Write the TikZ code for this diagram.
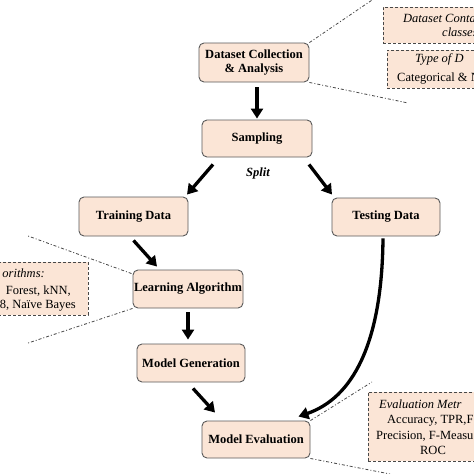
\documentclass[tikz,border=0pt]{standalone}
\usepackage{fontspec}
\setmainfont{Liberation Serif}
\usetikzlibrary{arrows.meta,calc}
\definecolor{peach}{HTML}{FBE5D6}
\definecolor{boxgray}{HTML}{5A5A5A}
\definecolor{dashgray}{HTML}{484848}
\tikzset{
  mainbox/.style={draw=boxgray, fill=peach, rounded corners=5pt, line width=0.9pt,
    font=\fontsize{12.5}{14.5}\selectfont\bfseries, align=center, inner sep=0pt},
  notebox/.style={draw=dashgray, fill=peach, line width=1pt, dash pattern=on 3pt off 2pt, inner sep=0pt},
  notetext/.style={inner sep=0pt, font=\fontsize{12.5}{14.5}\selectfont},
  arr/.style={line width=3.3pt, -{Triangle[length=10pt,width=12pt]}},
  ddline/.style={draw=dashgray, line width=0.8pt, dash pattern=on 3pt off 2pt on 1pt off 2pt}
}
\begin{document}
\begin{tikzpicture}[x=1pt,y=-1pt]
\useasboundingbox (0,0) rectangle (474,474);
\fill[white] (0,0) rectangle (474,474);
\clip (0,0) rectangle (474,474);

% main boxes
\node[mainbox, minimum width=110pt, minimum height=39pt] (dc) at (254,62.5) {Dataset Collection\\\& Analysis};
\node[mainbox, minimum width=110pt, minimum height=37pt] (samp) at (257,138.5) {Sampling};
\node[mainbox, minimum width=109pt, minimum height=39pt] (train) at (133.5,216.5) {Training Data};
\node[mainbox, minimum width=108pt, minimum height=38pt] (test) at (386,217) {Testing Data};
\node[mainbox, minimum width=110pt, minimum height=38pt] (learn) at (188,289) {Learning Algorithm};
\node[mainbox, minimum width=108pt, minimum height=38pt] (gen) at (191,363) {Model Generation};
\node[mainbox, minimum width=108pt, minimum height=37pt] (eval) at (256,439.5) {Model Evaluation};

\node[notetext, font=\fontsize{12.5}{14.5}\selectfont\bfseries\itshape] (split) at (258,173) {Split};

% note boxes
\node[notebox, minimum width=152pt, minimum height=36pt] (n1) at (459,25) {};
\node[notebox, minimum width=152pt, minimum height=38pt] (n2) at (463,69) {};
\node[notebox, minimum width=150pt, minimum height=53pt] (n3) at (13,288.5) {};
\node[notebox, minimum width=130pt, minimum height=69pt] (n4) at (433,426.5) {};

% note texts
\node[notetext, anchor=base west, font=\fontsize{12.5}{14.5}\selectfont\itshape] (t1a) at (403,22) {Dataset Conta};
\node[notetext, anchor=base west, font=\fontsize{12.5}{14.5}\selectfont\itshape] (t1b) at (442,36) {classes};
\node[notetext, anchor=base west, font=\fontsize{12.5}{14.5}\selectfont\itshape] (t2a) at (415,62) {Type of D};
\node[notetext, anchor=base west] (t2b) at (397,81) {Categorical \& N};

\node[notetext, anchor=base east, font=\fontsize{12.5}{14.5}\selectfont\itshape] (t3a) at (45,277) {orithms:};
\node[notetext, anchor=base east] (t3b) at (71,294) {Forest, kNN,};
\node[notetext, anchor=base east] (t3c) at (76,308) {8, Naïve Bayes};

\node[notetext, anchor=base west, font=\fontsize{12.5}{14.5}\selectfont\itshape] (t4a) at (379,408) {Evaluation Metr};
\node[notetext, anchor=base west] (t4b) at (387,423) {Accuracy, TPR,F};
\node[notetext, anchor=base west] (t4c) at (376,439) {Precision, F-Measu};
\node[notetext, anchor=base] (t4d) at (433,454) {ROC};

% dash-dot leader lines
\coordinate (l1) at (378,-4);
\coordinate (l2) at (408,103);
\coordinate (l3) at (28,236);
\coordinate (l4) at (28,343);
\coordinate (l5) at (372,382);
\coordinate (l6) at (390,474);
\draw[ddline] (dc.north east) -- (l1);
\draw[ddline] (dc.south east) -- (l2);
\draw[ddline] ([shift={(-1,4)}]learn.north west) -- (l3);
\draw[ddline] (learn.south west) -- (l4);
\draw[ddline] (eval.north east) -- (l5);
\draw[ddline] (eval.south east) -- (l6);

% arrows
\draw[arr] ([shift={(3,5)}]dc.south) -- ([shift={(0,-1)}]samp.north);
\draw[arr] ([shift={(-44,7)}]samp.south) -- ([shift={(53.5,-2)}]train.north);
\draw[arr] ([shift={(52,7)}]samp.south) -- ([shift={(-54,-3)}]test.north);
\draw[arr] ([shift={(0,4)}]train.south) -- ([shift={(-31,-3)}]learn.north);
\draw[arr] ([shift={(0,4)}]learn.south) -- ([shift={(-3,-4)}]gen.north);
\draw[arr] ([shift={(2,6)}]gen.south) -- ([shift={(-41,-8)}]eval.north);
\draw[arr] ([shift={(-3,2)}]test.south) .. controls (382,345) and (352,398) .. ([shift={(-12,-4)}]eval.north east);
\end{tikzpicture}
\end{document}
